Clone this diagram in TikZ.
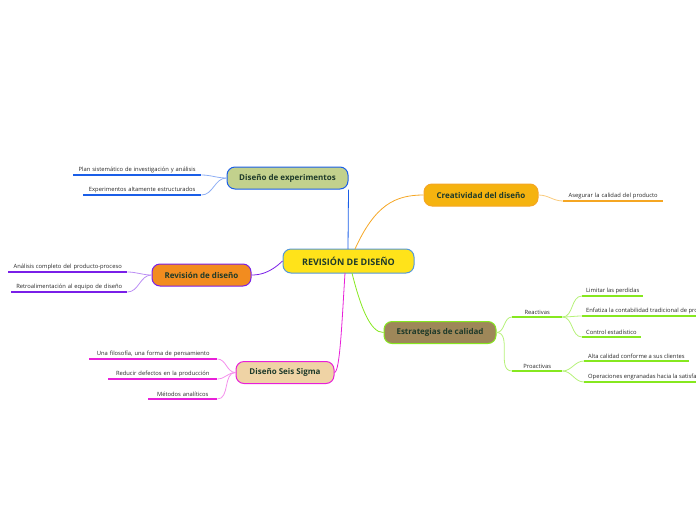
\documentclass[tikz,border=0pt]{standalone}
\usepackage{fontspec}
\setmainfont{Open Sans}
\usetikzlibrary{positioning}
\definecolor{cblue}{HTML}{1A5EE8}
\definecolor{cpurple}{HTML}{7A1FE8}
\definecolor{cmag}{HTML}{E81FD8}
\definecolor{corange}{HTML}{F5A623}
\definecolor{cgreen}{HTML}{86E81F}
\definecolor{ctext}{HTML}{1E3A2A}
\tikzset{
  topic/.style={draw, line width=1pt, rounded corners=8pt, minimum height=22pt, font=\fontsize{8}{9}\selectfont\bfseries, text=ctext},
  leaf/.style={inner xsep=0pt, inner ysep=2pt, align=center, font=\fontsize{5.8}{6.5}\selectfont, text=black!85},
  uline/.style={line width=1.6pt},
  link/.style={line width=0.8pt}
}
\begin{document}
\begin{tikzpicture}[x=1pt,y=-1pt]
	\useasboundingbox (0,0) rectangle (696,520);
	\clip (0,0) rectangle (696,520);
	% main topic
	\node[topic, draw=cyan!60!blue!70, fill={rgb,255:red,255;green,227;blue,26}, minimum width=131pt, minimum height=24pt, font=\fontsize{9}{10}\selectfont\bfseries] (root) at (348.5,261) {REVISIÓN DE DISEÑO};
	% subtopics
	\node[topic, draw=cblue, fill={rgb,255:red,194;green,209;blue,141}, minimum width=121pt] (exp) at (287.5,178) {Diseño de experimentos};
	\node[topic, draw=cpurple, fill={rgb,255:red,242;green,140;blue,31}, minimum width=99pt] (rev) at (201.5,275) {Revisión de diseño};
	\node[topic, draw=cmag, fill={rgb,255:red,239;green,211;blue,165}, minimum width=98pt] (sigma) at (285,372.5) {Diseño Seis Sigma};
	\node[topic, draw=corange, fill={rgb,255:red,245;green,179;blue,15}, minimum width=114pt] (crea) at (481,195) {Creatividad del diseño};
	\node[topic, draw=cgreen, fill={rgb,255:red,158;green,135;blue,89}, minimum width=112pt] (estr) at (440,332.5) {Estrategias de calidad};
	% main links
	\draw[link, cblue] (348,249) -- (exp.south east);
	\draw[link, corange] (355,249) .. controls (375,205) and (395,195) .. (crea.west);
	\draw[link, cgreen] (352,273) .. controls (360,305) and (370,333) .. (estr.west);
	\draw[link, cmag] (345,273) .. controls (342,320) and (340,372) .. (sigma.east);
	\draw[link, cpurple] (root.west) .. controls (270,273) and (260,275) .. (rev.east);
	% Diseño de experimentos
	\node[leaf, text width=128pt, anchor=south west] (e1) at (73,175) {Plan sistemático de investigación y análisis};
	\node[leaf, text width=118pt, anchor=south west] (e2) at (83,195) {Experimentos altamente estructurados};
	\draw[uline, cblue] (e1.south west) -- (e1.south east);
	\draw[uline, cblue] (e2.south west) -- (e2.south east);
	\draw[link, cblue!50] (exp.west) to[out=180,in=0] (e1.south east);
	\draw[link, cblue!50] (exp.west) to[out=180,in=0] (e2.south east);
	% Revisión de diseño
	\node[leaf, text width=119pt, anchor=south west] (r1) at (8,272) {Análisis completo del producto-proceso};
	\node[leaf, text width=116pt, anchor=south west] (r2) at (11,292) {Retroalimentación al equipo de diseño};
	\draw[uline, cpurple] (r1.south west) -- (r1.south east);
	\draw[uline, cpurple] (r2.south west) -- (r2.south east);
	\draw[link, cpurple!50] (rev.west) to[out=180,in=0] (r1.south east);
	\draw[link, cpurple!50] (rev.west) to[out=180,in=0] (r2.south east);
	% Diseño Seis Sigma
	\node[leaf, text width=128pt, anchor=south west] (s1) at (89,359) {Una filosofía, una forma de pensamiento};
	\node[leaf, text width=109pt, anchor=south west] (s2) at (108,379) {Reducir defectos en la producción};
	\node[leaf, text width=69pt, anchor=south west] (s3) at (148,399) {Métodos analíticos};
	\draw[uline, cmag] (s1.south west) -- (s1.south east);
	\draw[uline, cmag] (s2.south west) -- (s2.south east);
	\draw[uline, cmag] (s3.south west) -- (s3.south east);
	\draw[link, cmag!50] (sigma.west) to[out=180,in=0] (s1.south east);
	\draw[link, cmag!50] (sigma.west) to[out=180,in=0] (s2.south east);
	\draw[link, cmag!50] (sigma.west) to[out=180,in=0] (s3.south east);
	% Creatividad del diseño
	\node[leaf, text width=100pt, anchor=south west] (c1) at (563,201) {Asegurar la calidad del producto};
	\draw[uline, corange] (c1.south west) -- (c1.south east);
	\draw[link, corange!60] (crea.east) to[out=0,in=180] (c1.south west);
	% Estrategias de calidad
	\node[leaf, text width=50pt, anchor=south west] (reac) at (512,317) {Reactivas};
	\node[leaf, text width=50pt, anchor=south west] (proa) at (512,371) {Proactivas};
	\draw[uline, cgreen] (reac.south west) -- (reac.south east);
	\draw[uline, cgreen] (proa.south west) -- (proa.south east);
	\draw[link, cgreen!60] (estr.east) to[out=0,in=180] (reac.south west);
	\draw[link, cgreen!60] (estr.east) to[out=0,in=180] (proa.south west);
	\node[leaf, anchor=south west, inner xsep=4pt] (q1) at (582,296) {Limitar las perdidas};
	\node[leaf, anchor=south west, inner xsep=4pt] (q2) at (582,316) {Enfatiza la contabilidad tradicional de procesos};
	\node[leaf, anchor=south west, inner xsep=4pt] (q3) at (582,337) {Control estadístico};
	\node[leaf, anchor=south west, inner xsep=4pt] (p1) at (584,361) {Alta calidad conforme a sus clientes};
	\node[leaf, anchor=south west, inner xsep=4pt] (p2) at (584,382) {Operaciones engranadas hacia la satisfacción};
	\foreach \n in {q1,q2,q3,p1,p2}
		\draw[uline, cgreen] (\n.south west) -- (\n.south east);
	\foreach \n in {q1,q2,q3}
		\draw[link, cgreen!60] (reac.south east) to[out=0,in=180] (\n.south west);
	\foreach \n in {p1,p2}
		\draw[link, cgreen!60] (proa.south east) to[out=0,in=180] (\n.south west);
\end{tikzpicture}
\end{document}
